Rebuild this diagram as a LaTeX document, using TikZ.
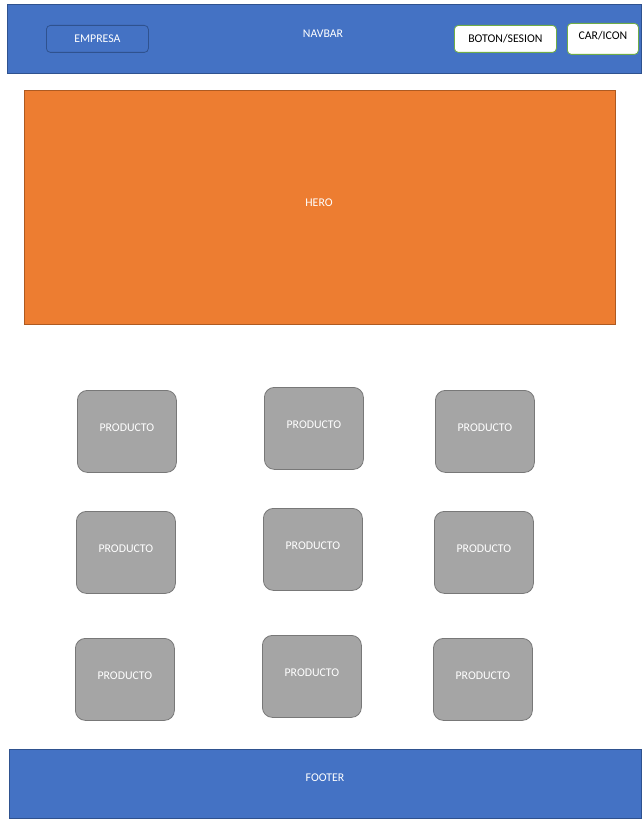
\documentclass[tikz,border=0pt]{standalone}
\usepackage{fontspec}
\setmainfont{Carlito}
\definecolor{navblue}{HTML}{4472C4}
\definecolor{navborder}{HTML}{2F528F}
\definecolor{heroorange}{HTML}{ED7D31}
\definecolor{heroborder}{HTML}{AE5A21}
\definecolor{prodgray}{HTML}{A5A5A5}
\definecolor{prodborder}{HTML}{787878}
\definecolor{btngreen}{HTML}{70AD47}
\begin{document}
\begin{tikzpicture}[x=1pt,y=-1pt,
  every node/.style={font=\fontsize{11.8}{13}\selectfont, inner sep=0pt},
  bar/.style={draw=navborder, fill=navblue, line width=0.8pt},
  lbl/.style={text=white},
  empbox/.style={draw=navborder, fill=navblue, line width=0.8pt, rounded corners=4pt},
  btnbox/.style={draw=btngreen, fill=white, line width=0.8pt, rounded corners=4pt, text=black},
  herobox/.style={draw=heroborder, fill=heroorange, line width=0.8pt},
  prodbox/.style={draw=prodborder, fill=prodgray, line width=0.8pt, rounded corners=10pt,
    minimum width=99pt, minimum height=82pt, text=white, text depth=8pt, anchor=north west}]
\useasboundingbox (0,0) rectangle (644,824);
% navbar
\node[bar, anchor=north west, minimum width=634pt, minimum height=69pt] (navbar) at (7,4) {};
\node[lbl] (navtxt) at (323,34) {NAVBAR};
\node[empbox, anchor=north west, minimum width=102pt, minimum height=27pt, text=white] (empresa) at (46,25) {EMPRESA};
\node[btnbox, anchor=north west, minimum width=102pt, minimum height=27pt] (boton) at (454,25) {BOTON/SESION};
\node[btnbox, anchor=north west, minimum width=71pt, minimum height=31pt, text depth=6pt] (car) at (567,23) {CAR/ICON};
% hero
\node[herobox, anchor=north west, minimum width=591pt, minimum height=234pt] (hero) at (24,90) {};
\node[lbl] (herotxt) at (319,203) {HERO};
% products
\node[prodbox] (p11) at (77,390) {PRODUCTO};
\node[prodbox] (p12) at (264,387) {PRODUCTO};
\node[prodbox] (p13) at (435,390) {PRODUCTO};
\node[prodbox] (p21) at (76,511) {PRODUCTO};
\node[prodbox] (p22) at (263,508) {PRODUCTO};
\node[prodbox] (p23) at (434,511) {PRODUCTO};
\node[prodbox] (p31) at (75,638) {PRODUCTO};
\node[prodbox] (p32) at (262,635) {PRODUCTO};
\node[prodbox] (p33) at (433,638) {PRODUCTO};
% footer
\node[bar, anchor=north west, minimum width=632pt, minimum height=69pt] (footer) at (9,749) {};
\node[lbl] (foottxt) at (325,778) {FOOTER};
\end{tikzpicture}
\end{document}
